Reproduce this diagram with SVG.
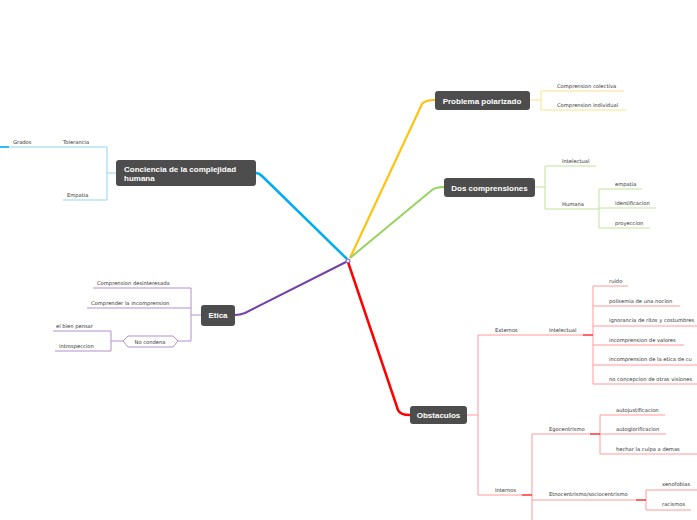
<svg xmlns="http://www.w3.org/2000/svg" width="697" height="520" viewBox="0 0 697 520">
<style>
.n{fill:#4d4d4d}
.nt{font-family:"Liberation Sans",Arial,sans-serif;font-size:8px;font-weight:bold;fill:#fff}
.t{font-family:"DejaVu Sans",Verdana,sans-serif;font-size:5.2px;fill:#333}
.b{fill:none;stroke:#8fd4f2;stroke-width:1}
.p{fill:none;stroke:#b48fd0;stroke-width:1}
.o{fill:none;stroke:#fde08a;stroke-width:1}
.g{fill:none;stroke:#bfe39a;stroke-width:1}
.r{fill:none;stroke:#ff9a9a;stroke-width:1}
</style>
<rect width="697" height="520" fill="#fff"/>
<g id="connectors">
<path d="M347 259 L262 176 Q259 173 256 173" fill="none" stroke="#00aeef" stroke-width="2.5"/>
<path d="M346 262 L245 313 Q240 315 235 315" fill="none" stroke="#7540a8" stroke-width="2"/>
<path d="M350 258 L422 104 Q425 100 435 100" fill="none" stroke="#ffc20e" stroke-width="2.2"/>
<path d="M350 258 L432 190 Q436 187 444 187" fill="none" stroke="#96d35f" stroke-width="2"/>
<path d="M348 262 L398 410 Q400 415 410 415" fill="none" stroke="#f00" stroke-width="2.5"/>
<circle cx="348" cy="261" r="2" fill="#fff" stroke="#7540a8" stroke-width="1"/>
<path class="b" d="M256 173 H107 M107 147 V200 M0 147 H107 M63 200 H107"/>
<path d="M0 147 H9" stroke="#00aeef" stroke-width="1.5"/>
<path class="p" d="M201 315 H191 M191 288 V341 M93 288 H191 M87 308 H191 M178 341 H191 M123 341 H111 M111 331 V351 M53 331 H111 M55 351 H111"/>
<path class="o" d="M530 100 H541 M541 91 V110 M541 91 H624 M541 110 H626"/>
<path class="g" d="M535 187 H545 M545 166 V209 M545 166 H596 M545 209 H599 M599 189 V228 M599 189 H642 M599 208 H656 M599 228 H650"/>
<path class="r" d="M467 415 H478 M478 335 V495 M478 335 H593 M593 286 V384 M593 286 H628 M593 306 H680 M593 326 H697 M593 345 H684 M593 365 H697 M593 384 H697 M478 495 H532 M532 434 V520 M532 434 H600 M600 415 V454 M600 415 H665 M600 434 H666 M600 454 H697 M532 500 H646 M646 490 V510 M646 490 H697 M646 510 H691"/>
<path d="M583 335 H593 M590 434 H600 M636 500 H646 M522 495 H532" stroke="#f00" stroke-width="1.2"/>
</g>
<g id="conciencia"><rect class="n" x="116" y="160" width="140" height="26" rx="3"/><text class="nt" x="124" y="172">Conciencia de la complejidad</text><text class="nt" x="124" y="181">humana</text></g>
<g id="tolerancia"><text class="t" x="63" y="144">Tolerancia</text></g>
<g id="grados"><text class="t" x="13" y="144">Grados</text></g>
<g id="empatia"><text class="t" x="67" y="197">Empatia</text></g>
<g id="etica"><rect class="n" x="201" y="305" width="34" height="21" rx="3"/><text class="nt" x="218" y="318" text-anchor="middle">Etica</text></g>
<g id="desint"><text class="t" x="97" y="285">Comprension desinteresada</text></g>
<g id="comprender"><text class="t" x="91" y="305">Comprender la incomprension</text></g>
<g id="nocondena"><path d="M123 341 L128 336 H173 L178 341 L173 347 H128 Z" fill="#fff" stroke="#b48fd0"/><text class="t" x="150" y="343.5" text-anchor="middle">No condena</text></g>
<g id="bien"><text class="t" x="56" y="328">el bien pensar</text></g>
<g id="intro"><text class="t" x="59" y="348">introspeccion</text></g>
<g id="problema"><rect class="n" x="435" y="91" width="95" height="19" rx="3"/><text class="nt" x="482" y="103.5" text-anchor="middle">Problema polarizado</text></g>
<g id="colectiva"><text class="t" x="557" y="88">Comprension colectiva</text></g>
<g id="individual"><text class="t" x="557" y="107">Comprension individual</text></g>
<g id="dos"><rect class="n" x="444" y="178" width="91" height="19" rx="3"/><text class="nt" x="489.5" y="190.5" text-anchor="middle">Dos comprensiones</text></g>
<g id="intelectual1"><text class="t" x="562" y="163">Intelectual</text></g>
<g id="humana"><text class="t" x="562" y="206">Humana</text></g>
<g id="empatia2"><text class="t" x="615" y="186">empatia</text></g>
<g id="identificacion"><text class="t" x="615" y="205">identificacion</text></g>
<g id="proyeccion"><text class="t" x="615" y="225">proyeccion</text></g>
<g id="obstaculos"><rect class="n" x="410" y="406" width="57" height="18" rx="3"/><text class="nt" x="438.5" y="418" text-anchor="middle">Obstaculos</text></g>
<g id="externos"><text class="t" x="495" y="332">Externos</text></g>
<g id="intelectual2"><text class="t" x="549" y="332">Intelectual</text></g>
<g id="ruido"><text class="t" x="609" y="283">ruido</text></g>
<g id="polisemia"><text class="t" x="609" y="303">polisemia de una nocion</text></g>
<g id="ignorancia"><text class="t" x="609" y="322">ignorancia de ritos y costumbres</text></g>
<g id="valores"><text class="t" x="609" y="342">incomprension de valores</text></g>
<g id="eticacu"><text class="t" x="609" y="361">incomprension de la etica de cu</text></g>
<g id="visiones"><text class="t" x="609" y="381">no concepcion de otras visiones</text></g>
<g id="internos"><text class="t" x="495" y="492">Internos</text></g>
<g id="ego"><text class="t" x="549" y="431">Egocentrismo</text></g>
<g id="autoj"><text class="t" x="616" y="412">autojustificacion</text></g>
<g id="autog"><text class="t" x="616" y="431">autoglorificacion</text></g>
<g id="culpa"><text class="t" x="616" y="451">hechar la culpa a demas</text></g>
<g id="etno"><text class="t" x="549" y="496">Etnocentrismo/sociocentrismo</text></g>
<g id="xeno"><text class="t" x="662" y="486">xenofobias</text></g>
<g id="racismos"><text class="t" x="662" y="506">racismos</text></g>
</svg>
